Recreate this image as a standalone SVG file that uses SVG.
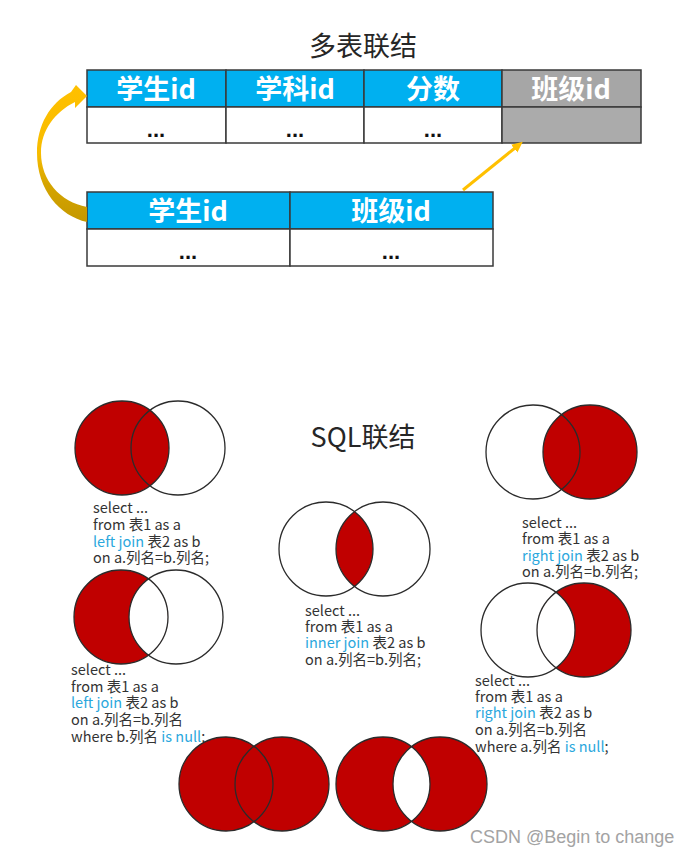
<svg xmlns="http://www.w3.org/2000/svg" width="697" height="856" viewBox="0 0 697 856">
<style>
.title{font-family:"Noto Sans CJK SC","Liberation Sans",sans-serif;font-size:27px;fill:#262626;text-anchor:middle}
.hd{font-family:"Noto Sans CJK SC","Liberation Sans",sans-serif;font-size:27px;font-weight:bold;fill:#ffffff;text-anchor:middle}
.dots{font-family:"Liberation Sans","Noto Sans CJK SC",sans-serif;font-size:22px;font-weight:bold;fill:#111;text-anchor:middle}
.cell{stroke:#3a3a3a;stroke-width:1.5}
.blue{fill:#00b0f0}
.grayh{fill:#a6a6a6}
.grayb{fill:#ababab}
.white{fill:#ffffff}
.code{font-family:"Noto Sans CJK SC","Liberation Sans",sans-serif;font-size:14.5px;fill:#333333}
.kw{fill:#2aa7dd}
.red{fill:#c00000}
.ring{fill:none;stroke:#2b2b2b;stroke-width:1.3}
.wm{font-family:"Liberation Sans",Arial,sans-serif;font-size:18px;fill:#a3a3a3}
</style>
<defs>
<linearGradient id="gold" gradientUnits="userSpaceOnUse" x1="0" y1="85" x2="0" y2="222">
<stop offset="0" stop-color="#ffc000"/>
<stop offset="0.5" stop-color="#f7bc00"/>
<stop offset="0.72" stop-color="#d6a500"/>
<stop offset="1" stop-color="#c49800"/>
</linearGradient>
<marker id="ah" markerWidth="12" markerHeight="12" refX="1" refY="5" orient="auto" markerUnits="userSpaceOnUse">
<path d="M0,0 L11,5 L0,10 Z" fill="#ffc000"/>
</marker>
<clipPath id="c2a"><circle cx="121" cy="617" r="47"/></clipPath>
<clipPath id="c3a"><circle cx="326" cy="549" r="47"/></clipPath>
<clipPath id="c5b"><circle cx="584" cy="630" r="47"/></clipPath>
<clipPath id="c7a"><circle cx="383" cy="784" r="47"/></clipPath>
</defs>

<text class="title" x="363" y="56">多表联结</text>

<g id="table1">
<rect class="blue cell" x="87" y="70" width="139" height="37"/>
<rect class="blue cell" x="226" y="70" width="138" height="37"/>
<rect class="blue cell" x="364" y="70" width="138" height="37"/>
<rect class="grayh cell" x="502" y="70" width="139" height="37"/>
<rect class="white cell" x="87" y="107" width="139" height="36"/>
<rect class="white cell" x="226" y="107" width="138" height="36"/>
<rect class="white cell" x="364" y="107" width="138" height="36"/>
<rect class="grayb cell" x="502" y="107" width="139" height="36"/>
<text class="hd" x="156" y="99">学生id</text>
<text class="hd" x="295" y="99">学科id</text>
<text class="hd" x="433" y="99">分数</text>
<text class="hd" x="571" y="99">班级id</text>
<text class="dots" x="156" y="137">...</text>
<text class="dots" x="295" y="137">...</text>
<text class="dots" x="433" y="137">...</text>
</g>

<g id="table2">
<rect class="blue cell" x="87" y="192" width="203" height="37"/>
<rect class="blue cell" x="290" y="192" width="203" height="37"/>
<rect class="white cell" x="87" y="229" width="203" height="37"/>
<rect class="white cell" x="290" y="229" width="203" height="37"/>
<text class="hd" x="188" y="221">学生id</text>
<text class="hd" x="391" y="221">班级id</text>
<text class="dots" x="188" y="259">...</text>
<text class="dots" x="391" y="259">...</text>
</g>

<g id="connectors">
<path d="M87 222 C60 216 37 190 37 153 C37 125 50 103 71 92 L76 85 L87 96 L75 108 L75 102 C55 112 41 130 41 153 C41 180 60 202 87 207 Z" fill="url(#gold)"/>
<line x1="463" y1="190" x2="515" y2="148" stroke="#ffc000" stroke-width="3" marker-end="url(#ah)"/>
</g>

<text class="title" x="363" y="447">SQL联结</text>

<g id="venn-left-join">
<circle class="red" cx="122" cy="448" r="47"/>
<circle class="ring" cx="122" cy="448" r="47"/>
<circle class="ring" cx="178" cy="448" r="47"/>
<text class="code"><tspan x="93" y="513">select ...</tspan><tspan x="93" y="530">from 表1 as a</tspan><tspan x="93" y="547"><tspan class="kw">left join</tspan> 表2 as b</tspan><tspan x="93" y="563">on a.列名=b.列名;</tspan></text>
</g>

<g id="venn-left-excl">
<circle class="red" cx="121" cy="617" r="47"/>
<circle class="white" cx="176" cy="617" r="47" clip-path="url(#c2a)"/>
<circle class="ring" cx="121" cy="617" r="47"/>
<circle class="ring" cx="176" cy="617" r="47"/>
<text class="code"><tspan x="71" y="675">select ...</tspan><tspan x="71" y="692">from 表1 as a</tspan><tspan x="71" y="708"><tspan class="kw">left join</tspan> 表2 as b</tspan><tspan x="71" y="725">on a.列名=b.列名</tspan><tspan x="71" y="742">where b.列名 <tspan class="kw">is null</tspan>;</tspan></text>
</g>

<g id="venn-inner">
<circle class="red" cx="383" cy="549" r="47" clip-path="url(#c3a)"/>
<circle class="ring" cx="326" cy="549" r="47"/>
<circle class="ring" cx="383" cy="549" r="47"/>
<text class="code"><tspan x="305" y="616">select ...</tspan><tspan x="305" y="632">from 表1 as a</tspan><tspan x="305" y="648"><tspan class="kw">inner join</tspan> 表2 as b</tspan><tspan x="305" y="665">on a.列名=b.列名;</tspan></text>
</g>

<g id="venn-right-join">
<circle class="red" cx="590" cy="452" r="47"/>
<circle class="ring" cx="533" cy="452" r="47"/>
<circle class="ring" cx="590" cy="452" r="47"/>
<text class="code"><tspan x="522" y="528">select ...</tspan><tspan x="522" y="544">from 表1 as a</tspan><tspan x="522" y="561"><tspan class="kw">right join</tspan> 表2 as b</tspan><tspan x="522" y="577">on a.列名=b.列名;</tspan></text>
</g>

<g id="venn-right-excl">
<circle class="red" cx="584" cy="630" r="47"/>
<circle class="white" cx="528" cy="630" r="47" clip-path="url(#c5b)"/>
<circle class="ring" cx="528" cy="630" r="47"/>
<circle class="ring" cx="584" cy="630" r="47"/>
<text class="code"><tspan x="475" y="686">select ...</tspan><tspan x="475" y="702">from 表1 as a</tspan><tspan x="475" y="718"><tspan class="kw">right join</tspan> 表2 as b</tspan><tspan x="475" y="735">on a.列名=b.列名</tspan><tspan x="475" y="752">where a.列名 <tspan class="kw">is null</tspan>;</tspan></text>
</g>

<g id="venn-full">
<circle class="red" cx="226" cy="784" r="47"/>
<circle class="red" cx="282" cy="784" r="47"/>
<circle class="ring" cx="226" cy="784" r="47"/>
<circle class="ring" cx="282" cy="784" r="47"/>
</g>

<g id="venn-full-excl">
<circle class="red" cx="383" cy="784" r="47"/>
<circle class="red" cx="440" cy="784" r="47"/>
<circle class="white" cx="440" cy="784" r="47" clip-path="url(#c7a)"/>
<circle class="ring" cx="383" cy="784" r="47"/>
<circle class="ring" cx="440" cy="784" r="47"/>
</g>

<text class="wm" x="470" y="843">CSDN @Begin to change</text>
</svg>
